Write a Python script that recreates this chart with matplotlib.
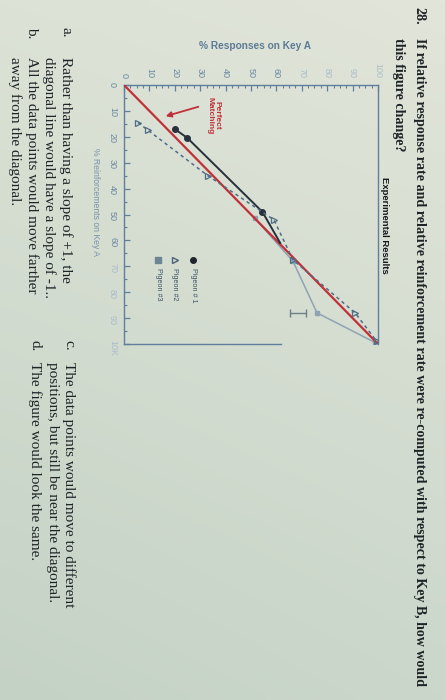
import matplotlib
matplotlib.use('Agg')
import matplotlib.pyplot as plt
import numpy as np
from matplotlib.ticker import MultipleLocator

# data, page orientation: x = % reinforcements on key A, y = % responses on key A
p1_reinf = [17, 20.5, 49, 61]
p1_resp = [20, 25, 54.5, 61.5]
p2_reinf = [14.5, 17.5, 35, 52, 67.5, 88, 99]
p2_resp = [5.5, 9.5, 33, 59, 66.5, 91, 99.5]
p3_reinf = [51.5, 68, 88, 99.5]
p3_resp = [51.5, 66.5, 76, 99]
match_line = [0, 100]
eb_reinf = [88]
eb_resp = [68.5]
eb_err = [3.3]
tick_vals = [0, 10, 20, 30, 40, 50, 60, 70, 80, 90, 100]
tick_labels = ['0', '10', '20', '30', '40', '50', '60', '70', '80', '90', '10K']
legend_names = ['Pigeon # 1', 'Pigeon #2', 'Pigeon #3']

question = ('If relative response rate and relative reinforcement rate were '
            're-computed with respect to Key B, how would')
question2 = 'this figure change?'
opt_a = ['Rather than having a slope of +1, the', 'diagonal line would have a slope of -1..']
opt_b = ['All the data points would move farther', 'away from the diagonal.']
opt_c = ['The data points would move to different', 'positions, but still be near the diagonal.']
opt_d = ['The figure would look the same.']

W, H = 445, 700
fig = plt.figure(figsize=(W / 100, H / 100), dpi=100)

# photographed paper background
bg = fig.add_axes([0, 0, 1, 1], zorder=-10)
bg.axis('off')
tl = np.array([0xdc, 0xe2, 0xd6]) / 255
tr = np.array([0xe2, 0xe5, 0xd9]) / 255
bl = np.array([0xc4, 0xd2, 0xc5]) / 255
br = np.array([0xcb, 0xd7, 0xcb]) / 255
u = np.linspace(0, 1, 50)[None, :, None]
v = np.linspace(0, 1, 80)[:, None, None]
grad = (1 - v) * ((1 - u) * tl + u * tr) + v * ((1 - u) * bl + u * br)
bg.imshow(grad, aspect='auto', extent=[0, 1, 0, 1], interpolation='bilinear')

axis_col = '#5f7f9a'
ax = fig.add_axes([124 / W, 1 - 344 / H, 254 / W, 259 / H])
ax.set_facecolor('none')
ax.set_xlim(0, 100)
ax.set_ylim(100, 0)

# page is turned a quarter clockwise: responses run across, reinforcements run down
ax.plot(match_line, match_line, color='#c23038', lw=1.6, zorder=3)
ax.plot(p1_resp, p1_reinf, color='#27313c', lw=1.4, marker='o', ms=4,
        markevery=[0, 1, 2], zorder=4)
ax.plot(p2_resp, p2_reinf, color='#4f6d86', lw=1.1, ls=(0, (2.2, 2.2)), marker='>',
        ms=4.5, mfc='none', mew=0.9, zorder=4)
ax.plot(p3_resp, p3_reinf, color='#8ea3b3', lw=1.1, marker='s', ms=3.5, zorder=2)
ax.errorbar(eb_resp, eb_reinf, xerr=eb_err, fmt='none', ecolor='#6f7f88',
            elinewidth=1, capsize=3, capthick=1)

for side in ['top', 'left', 'right', 'bottom']:
    ax.spines[side].set_color(axis_col)
    ax.spines[side].set_linewidth(1.0)
ax.spines['bottom'].set_bounds(0, 62)

ax.xaxis.tick_top()
ax.set_xticks(tick_vals)
ax.set_xticklabels(tick_labels[:-1] + ['100'], rotation=-90)
ax.set_yticks(tick_vals)
ax.set_yticklabels(tick_labels, rotation=-90)
ax.xaxis.set_minor_locator(MultipleLocator(2.5))
ax.yaxis.set_minor_locator(MultipleLocator(5))
ax.tick_params(which='both', direction='in', color=axis_col, labelsize=6.5,
               top=True, bottom=False, left=True, right=False)
ax.tick_params(which='major', length=4, width=0.9, pad=5)
ax.tick_params(which='minor', length=2.5, width=0.8)
for lbl, val in zip(ax.get_xticklabels() + ax.get_yticklabels(), tick_vals + tick_vals):
    lbl.set_color('#6a88a2' if val <= 60 else '#a9bccb')
    lbl.set_family('Liberation Sans')

ax.xaxis.set_label_position('top')
ax.set_xlabel('% Responses on Key A', fontsize=7.3, color='#5d7b95',
              family='Liberation Sans', fontweight='bold')
ax.xaxis.set_label_coords(0.516, 1.14)
ax.set_ylabel('% Reinforcements on Key A', fontsize=6.2, color='#7993aa',
              family='Liberation Sans', rotation=-90, va='center')
ax.yaxis.set_label_coords(-0.114, 0.55)

# rotated legend
leg_x = [0.272, 0.20, 0.134]
leg_mk = [dict(marker='o', color='#1e252c'),
          dict(marker='>', mfc='none', color='#4a6275'),
          dict(marker='s', color='#6f8494')]
for x, name, mk in zip(leg_x, legend_names, leg_mk):
    ax.plot([x], [0.324], transform=ax.transAxes, ms=4, ls='none', clip_on=False, **mk)
    ax.text(x, 0.295, name, transform=ax.transAxes, rotation=-90, ha='center',
            va='top', fontsize=5.2, color='#3e5466', family='Liberation Sans')

ax.text((214 - 124) / 254, 1 - (97 - 85) / 259, 'Perfect\nMatching',
        transform=ax.transAxes, rotation=-90, ha='center', va='top',
        fontsize=6, color='#c0303a', fontweight='bold', family='Liberation Sans',
        linespacing=1.0)
ax.annotate('', xy=((163 - 124) / 254, 1 - (117 - 85) / 259),
            xytext=((201 - 124) / 254, 1 - (106 - 85) / 259),
            xycoords='axes fraction', textcoords='axes fraction',
            arrowprops=dict(arrowstyle='-|>', color='#c0303a', lw=1.3,
                            mutation_scale=8))

fig.text(385 / W, 1 - 177 / H, 'Experimental Results', rotation=-90, ha='center',
         va='top', fontsize=6.8, fontweight='bold', color='#15191c',
         family='Liberation Sans')


def page_text(px, py, s, bold=False, size=11):
    fig.text(px / W, 1 - py / H, s, rotation=-90, ha='center', va='top',
             fontsize=size, color='#1e2326', family='Liberation Serif',
             fontweight='bold' if bold else 'normal')


page_text(419, 7, '28.', bold=True, size=10.1)
page_text(419, 38, question, bold=True, size=10.1)
page_text(399, 38, question2, bold=True, size=10.1)

page_text(66, 27, 'a.')
page_text(66, 57, opt_a[0])
page_text(49, 57, opt_a[1])
page_text(32, 27, 'b.')
page_text(32, 57, opt_b[0])
page_text(15, 57, opt_b[1])
page_text(69, 340, 'c.')
page_text(69, 362, opt_c[0])
page_text(52, 362, opt_c[1])
page_text(35, 340, 'd.')
page_text(35, 362, opt_d[0])

fig.savefig('out.png', dpi=100)
